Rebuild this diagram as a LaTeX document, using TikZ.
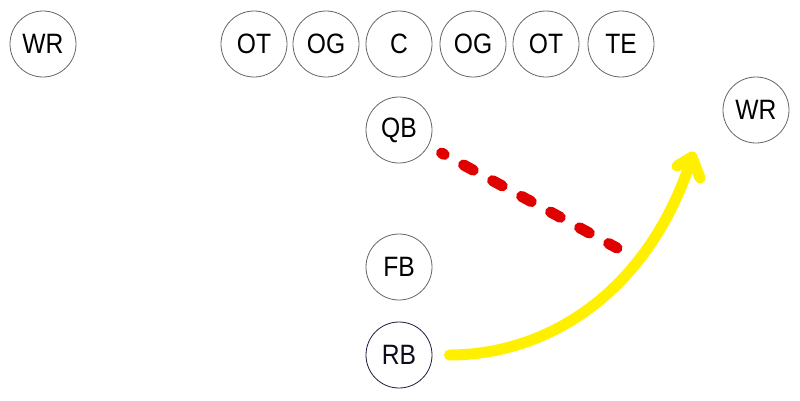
\documentclass[tikz,border=0pt]{standalone}
\usepackage{fontspec}
\setmainfont{Liberation Sans}[FakeStretch=0.88]
\definecolor{ringgray}{HTML}{666666}
\definecolor{rbnavy}{HTML}{1C1C40}
\definecolor{rbtext}{HTML}{0C0C1C}
\definecolor{passred}{HTML}{E00000}
\definecolor{runyellow}{HTML}{FFF000}
\begin{document}
\begin{tikzpicture}[x=1pt,y=-1pt,
  player/.style={circle,draw=ringgray,line width=0.8pt,minimum size=66pt,inner sep=0pt,
    font=\fontsize{28}{28}\selectfont},
  passline/.style={draw=passred,line width=11pt,line cap=round,dash pattern=on 11pt off 22pt,dash phase=8pt},
  runline/.style={draw=runyellow,line width=11pt,line cap=round,line join=round}]
\useasboundingbox[fill=white] (0,0) rectangle (800,400);
\node[player] (wrl) at (43,44) {WR};
\node[player] (otl) at (254,44) {OT};
\node[player] (ogl) at (326,44) {OG};
\node[player] (c) at (399,44) {C};
\node[player] (ogr) at (473,44) {OG};
\node[player] (otr) at (546,44) {OT};
\node[player] (te) at (621,44) {TE};
\node[player] (wrr) at (756,110) {WR};
\node[player] (qb) at (399,130) {QB};
\node[player] (fb) at (399,267) {FB};
\node[player,draw=rbnavy,text=rbtext] (rb) at (399,355) {RB};
\coordinate (passend) at (617,248);
\coordinate (tip) at (692,157);
\coordinate (armleft) at (677,166);
\coordinate (armright) at (700,178);
\draw[passline,shorten <=15pt] (qb) -- (passend);
\draw[runline] ([xshift=17pt]rb.east) .. controls (550,355) and (650,290) .. (tip);
\draw[runline] (armleft) -- (tip) -- (armright);
\end{tikzpicture}
\end{document}
